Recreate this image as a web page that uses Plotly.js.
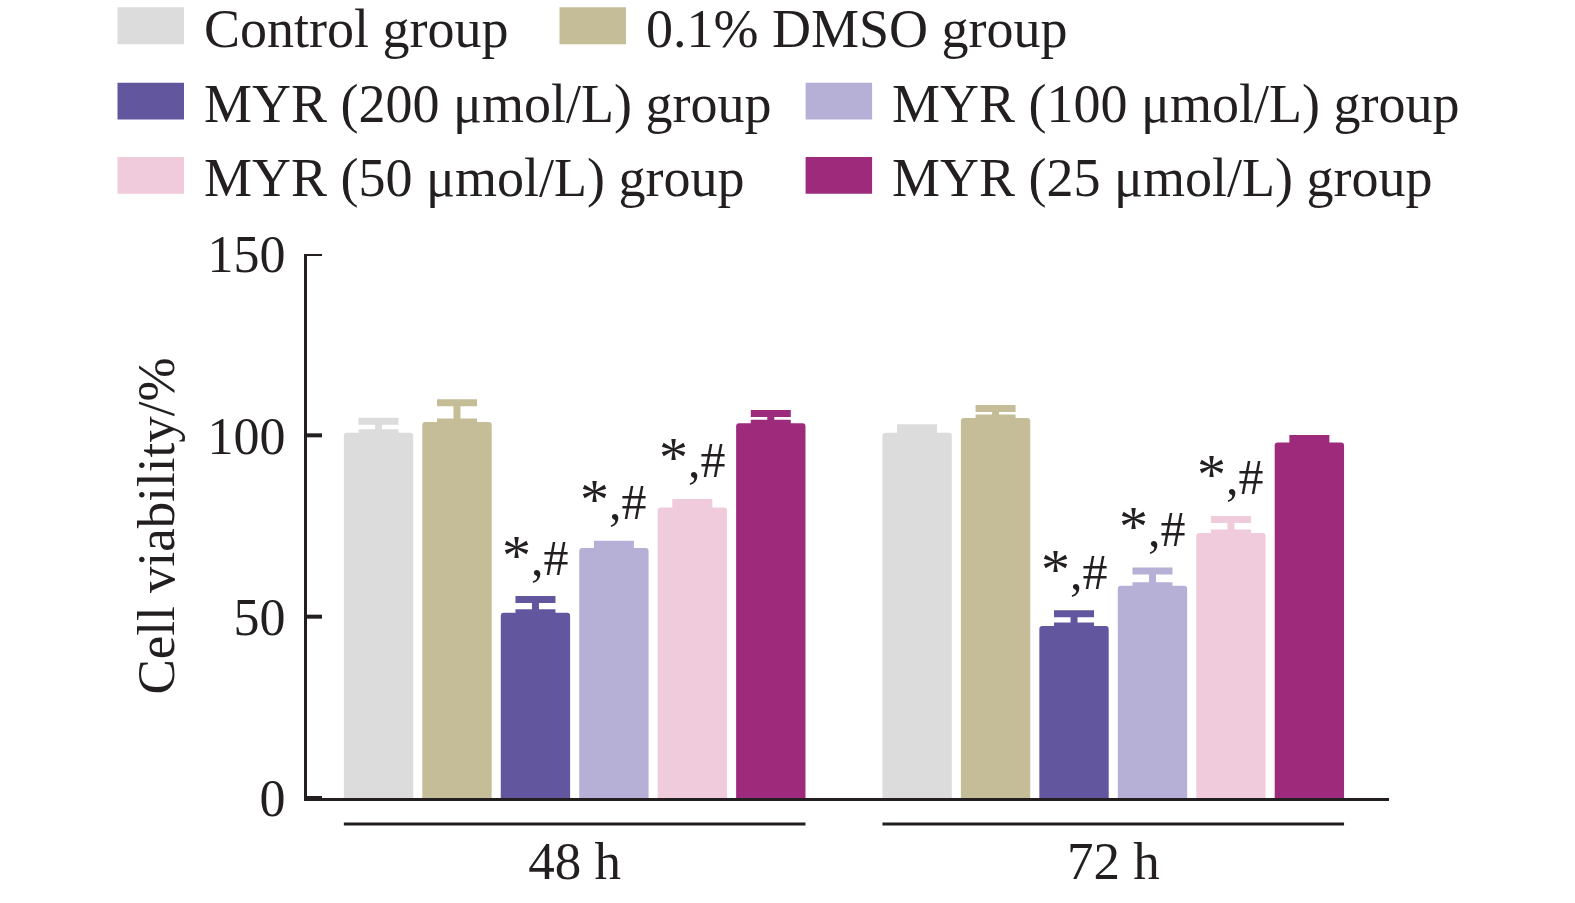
<!DOCTYPE html>
<html>
<head>
<meta charset="utf-8">
<script src="https://cdn.plot.ly/plotly-3.0.1.min.js"></script>
<style>html,body{margin:0;padding:0;background:#fff;}#chart{width:1575px;height:903px;}</style>
</head>
<body>
<div id="chart"></div>
<script>
// ---- data ----
const timepoints = ['48 h', '72 h'];
const seriesNames = ['Control group', '0.1% DMSO group', 'MYR (200 μmol/L) group',
                     'MYR (100 μmol/L) group', 'MYR (50 μmol/L) group', 'MYR (25 μmol/L) group'];
const seriesColors = ['#dcdcdc', '#c4bd97', '#62579e', '#b7b0d6', '#f0cbdb', '#9e2a7c'];
const controlMean = [100.7, 100.7];
const controlErr  = [3.2, 1.4];
const dmsoMean    = [103.7, 104.8];
const dmsoErr     = [5.3, 2.6];
const myr200Mean  = [51.1, 47.4];
const myr200Err   = [3.6, 3.4];
const myr100Mean  = [68.9, 58.5];
const myr100Err   = [1.1, 4.1];
const myr50Mean   = [80.1, 73.1];
const myr50Err    = [1.4, 3.7];
const myr25Mean   = [103.3, 98.0];
const myr25Err    = [2.7, 1.1];
const sigMarks    = ['', '', '*,#', '*,#', '*,#', ''];
const yTicks      = [0, 50, 100, 150];

const means = [controlMean, dmsoMean, myr200Mean, myr100Mean, myr50Mean, myr25Mean];
const errs  = [controlErr, dmsoErr, myr200Err, myr100Err, myr50Err, myr25Err];

// ---- layout geometry ----
const W = 1575, H = 903;
const M = {l: 307, r: 186, t: 254, b: 104.5};
const plotW = W - M.l - M.r, plotH = H - M.t - M.b;
const px2x = p => (p - M.l) / plotW;
const px2y = p => (H - M.b - p) / plotH;
const bargap = 0.126, bargroupgap = 0.116;
const nS = seriesNames.length;
const slot = (1 - bargap) / nS;
const font = 'Liberation Serif, Times New Roman, serif';
const ink = '#231f20';

const traces = seriesNames.map((name, k) => ({
  type: 'bar', name: name, x: timepoints, y: means[k],
  marker: {color: seriesColors[k], cornerradius: 3},
  error_y: {type: 'data', symmetric: false, array: errs[k],
            arrayminus: errs[k].map(() => 0), color: seriesColors[k], thickness: 7, width: 20},
  showlegend: false, hoverinfo: 'x+y+name'
}));

const annotations = [];
const shapes = [];
// inward tick marks on the y axis
yTicks.forEach(v => {
  shapes.push({type: 'line', xref: 'paper', yref: 'y', x0: 0, x1: 15 / plotW, y0: v, y1: v,
               layer: 'above', line: {color: ink, width: 4}});
});
// significance marks
seriesNames.forEach((name, k) => {
  if (!sigMarks[k]) return;
  timepoints.forEach((t, i) => {
    annotations.push({
      x: i + (k - (nS - 1) / 2) * slot, xref: 'x',
      y: means[k][i] + errs[k][i], yref: 'y',
      yanchor: 'bottom', xanchor: 'center', yshift: 10, showarrow: false,
      text: '<span style="font-size:58px">*</span>' + sigMarks[k].slice(1),
      font: {family: font, size: 50, color: ink}
    });
  });
});
// group underlines
timepoints.forEach((t, i) => {
  const half = (1 - bargap) / 2 - slot * bargroupgap / 2;
  shapes.push({type: 'line', xref: 'x', yref: 'paper', x0: i - half, x1: i + half,
               y0: px2y(824.5), y1: px2y(824.5), line: {color: ink, width: 3}});
});
// legend (drawn with shapes + text)
const legendRows = [[0, 1], [2, 3], [4, 5]];
const rowCenters = [25.6, 101, 175.3];
const colStarts = [[117.5, 559.5], [117.5, 805.6], [117.5, 805.6]];
legendRows.forEach((row, r) => {
  row.forEach((k, c) => {
    const x0 = colStarts[r][c], yc = rowCenters[r];
    shapes.push({type: 'rect', xref: 'paper', yref: 'paper',
                 x0: px2x(x0), x1: px2x(x0 + 66.5), y0: px2y(yc + 18.5), y1: px2y(yc - 18.5),
                 fillcolor: seriesColors[k], line: {width: 0}});
    annotations.push({xref: 'paper', yref: 'paper', x: px2x(x0 + 84), y: px2y(yc + 3),
                      xanchor: 'left', yanchor: 'middle', showarrow: false,
                      text: seriesNames[k], font: {family: font, size: 54, color: ink}});
  });
});

const layout = {
  width: W, height: H, margin: M,
  paper_bgcolor: '#fff', plot_bgcolor: '#fff',
  barmode: 'group', bargap: bargap, bargroupgap: bargroupgap,
  showlegend: false,
  font: {family: font, color: ink},
  xaxis: {type: 'category', range: [-0.497, 1.512], showline: true, linewidth: 3, linecolor: ink,
          ticks: '', showgrid: false, zeroline: false, ticklabelstandoff: 14,
          tickfont: {family: font, size: 53, color: ink}},
  yaxis: {range: [0, 150], tickmode: 'array', tickvals: yTicks, ticks: 'inside', ticklen: 13, tickwidth: 3,
          tickcolor: ink, showline: true, linewidth: 3, linecolor: ink, showgrid: false, zeroline: false,
          ticklabelstandoff: 8, tickfont: {family: font, size: 52, color: ink},
          title: {text: 'Cell viability/%', standoff: 17, font: {family: font, size: 53, color: ink}}},
  shapes: shapes, annotations: annotations
};

Plotly.newPlot('chart', traces, layout, {displayModeBar: false, staticPlot: true});
</script>
</body>
</html>
